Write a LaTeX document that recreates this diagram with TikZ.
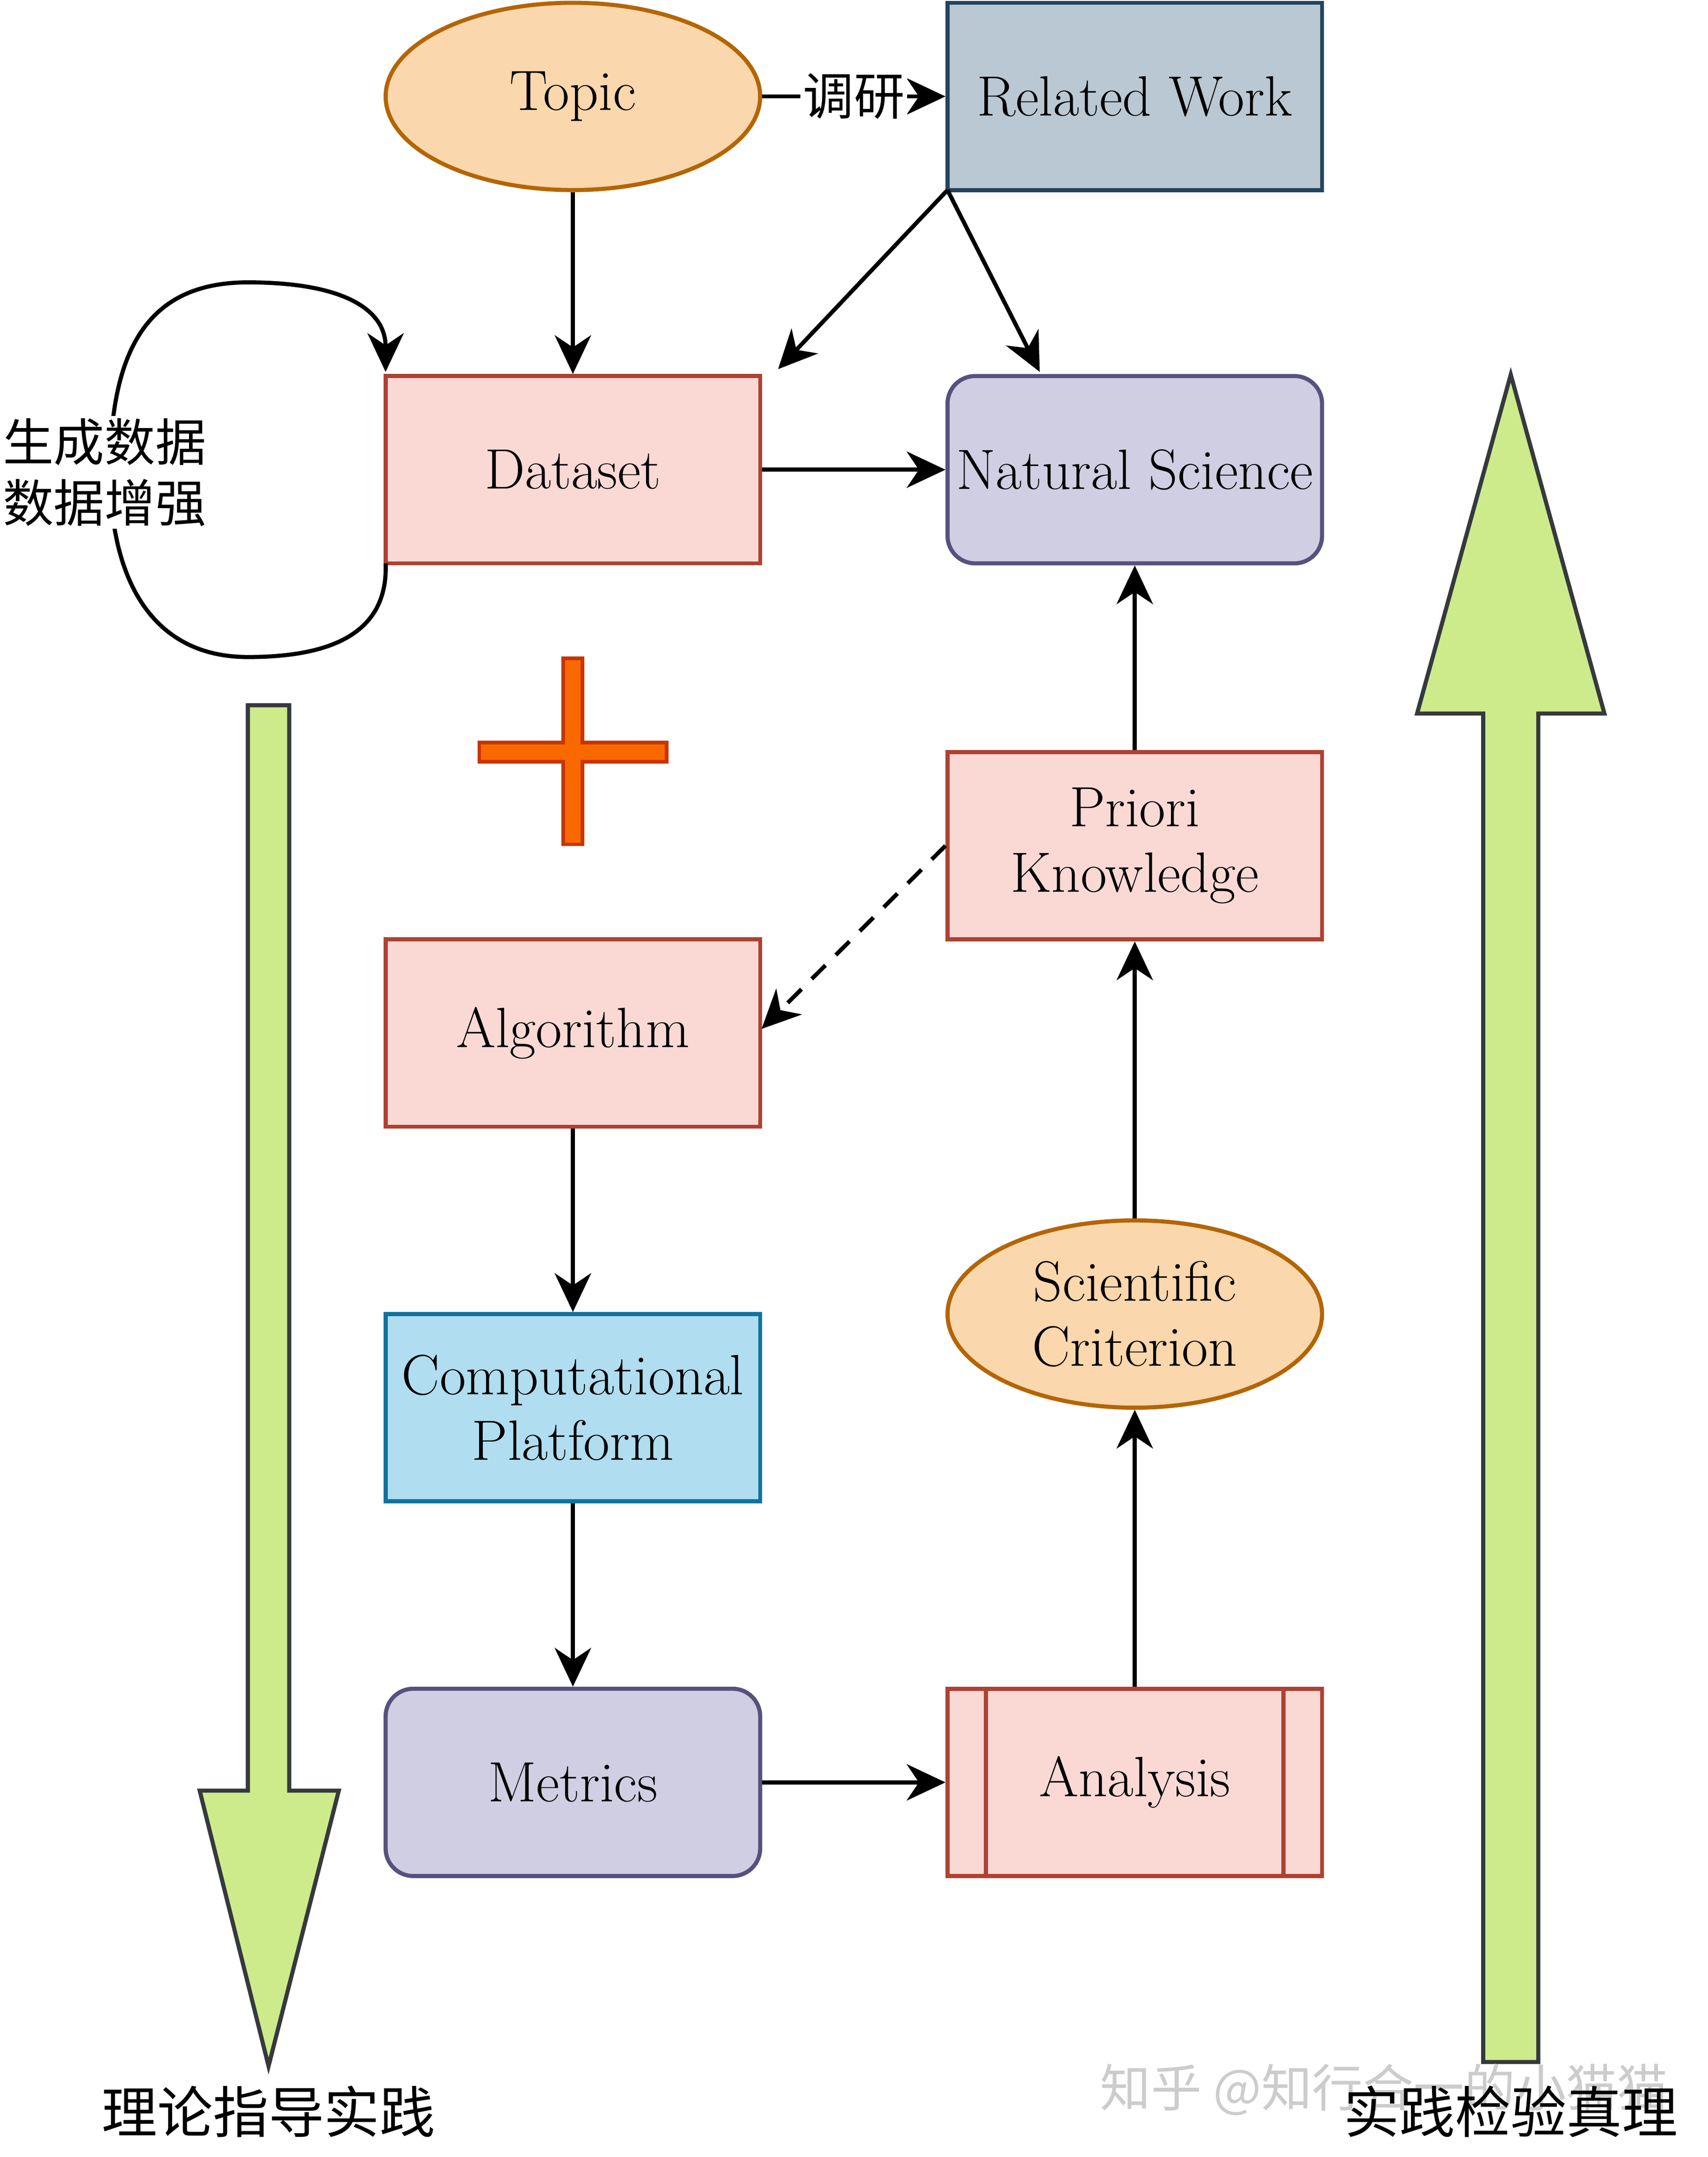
\documentclass[tikz,border=0pt]{standalone}
\usepackage{fontspec}
\newfontfamily\cjk{Noto Sans CJK SC}
\usetikzlibrary{arrows.meta,shapes.geometric,shapes.misc,shapes.multipart}
\definecolor{orF}{HTML}{FAD7AC}\definecolor{orD}{HTML}{B46504}
\definecolor{blF}{HTML}{BAC8D3}\definecolor{blD}{HTML}{23445D}
\definecolor{rdF}{HTML}{FAD9D5}\definecolor{rdD}{HTML}{AE4132}
\definecolor{puF}{HTML}{D0CEE2}\definecolor{puD}{HTML}{56517E}
\definecolor{cyF}{HTML}{B1DDF0}\definecolor{cyD}{HTML}{10739E}
\definecolor{grF}{HTML}{CDEB8B}\definecolor{grD}{HTML}{36393D}
\definecolor{plF}{HTML}{FA6800}\definecolor{plD}{HTML}{C73500}
\begin{document}
\begin{tikzpicture}[x=0.02cm,y=-0.02cm,
  txt/.style={font=\fontsize{23.5}{27}\selectfont, align=center},
  box/.style={txt, draw, line width=1.7pt, minimum width=5.44cm, minimum height=2.72cm, inner sep=0pt},
  ell/.style={txt, ellipse, draw, line width=1.7pt, minimum width=5.44cm, minimum height=2.72cm, inner sep=0pt},
  red/.style={box, fill=rdF, draw=rdD},
  pur/.style={box, fill=puF, draw=puD, rounded corners=0.4cm},
  arr/.style={line width=1.7pt, -{Stealth[length=16pt,width=15pt,inset=5pt]}},
  big/.style={fill=grF, draw=grD, line width=1.7pt},
  zh/.style={font=\cjk\fontsize{21}{25}\selectfont}]
\useasboundingbox (0,0) rectangle (1240,1566);
\node[ell, fill=orF, draw=orD] (topic) at (416,70) {Topic};
\node[box, fill=blF, draw=blD] (rw) at (824,70) {Related Work};
\node[red] (ds) at (416,341) {Dataset};
\node[pur] (ns) at (824,341) {Natural Science};
\node[red] (pk) at (824,614) {Priori\\Knowledge};
\node[red] (alg) at (416,750) {Algorithm};
\node[box, fill=cyF, draw=cyD] (cp) at (416,1022) {Computational\\Platform};
\node[pur] (met) at (416,1294) {Metrics};
\node[red] (an) at (824,1294) {Analysis};
\draw[rdD, line width=1.7pt] (716,1226) -- (716,1362) (932,1226) -- (932,1362);
\node[ell, fill=orF, draw=orD] (sc) at (824,954) {Scientific\\Criterion};
% plus
\draw[fill=plF, draw=plD, line width=1.5pt] (409,478) -- (423,478) -- (423,539) -- (484,539) -- (484,553) -- (423,553) -- (423,613) -- (409,613) -- (409,553) -- (348,553) -- (348,539) -- (409,539) -- cycle;
% big arrows
\draw[big] (180,512) -- (210,512) -- (210,1300) -- (246,1300) -- (195,1500) -- (145,1300) -- (180,1300) -- cycle;
\draw[big] (1077,1497) -- (1117,1497) -- (1117,518) -- (1165,518) -- (1097,272) -- (1029,518) -- (1077,518) -- cycle;
\node[zh, font=\cjk\fontsize{23}{27}\selectfont] (l1) at (195,1533) {理论指导实践};
\node[zh, text=gray!40] (wm) at (1005,1517) {知乎 @知行合一的小猫猫};
\node[zh, font=\cjk\fontsize{23}{27}\selectfont] (l2) at (1097,1533) {实践检验真理};
% loop
\coordinate (lp1) at (280,409);
\coordinate (lp2) at (280,270);
\draw[arr] (lp1) .. controls (282,460) and (240,477) .. (180,477) .. controls (110,477) and (80,420) .. (80,343) .. controls (80,250) and (110,205) .. (180,205) .. controls (250,205) and (280,225) .. (lp2);
\node[zh, fill=white, align=left, inner sep=1pt, anchor=west] (gen) at (0,343) {生成数据\\数据增强};
% connectors
\draw[arr] (topic) -- (ds);
\draw[arr] (topic) -- node[zh, fill=white, inner sep=1pt] (dy) {调研} (rw);
\coordinate (rwbl) at (688,138);
\coordinate (e1) at (565,268);
\coordinate (e2) at (755,270);
\draw[arr] (rwbl) -- (e1);
\draw[arr] (rwbl) -- (e2);
\draw[arr] (ds) -- (ns);
\draw[arr] (pk) -- (ns);
\coordinate (e3) at (553,747);
\draw[arr, dashed, dash pattern=on 8pt off 6pt] (pk.west) -- (e3);
\draw[arr] (alg) -- (cp);
\draw[arr] (cp) -- (met);
\draw[arr] (met) -- (an);
\draw[arr] (an) -- (sc);
\draw[arr] (sc) -- (pk);
\end{tikzpicture}
\end{document}
